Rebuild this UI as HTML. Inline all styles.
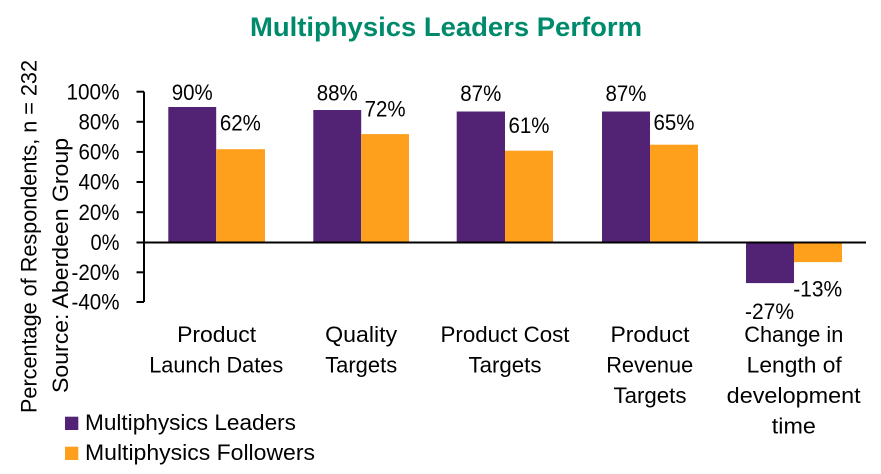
<!DOCTYPE html>
<html><head><meta charset="utf-8"><style>
html,body{margin:0;padding:0;background:#fff;}
svg{display:block;}
text{font-family:"Liberation Sans",Arial,sans-serif;fill:#000;}
</style></head><body>
<svg width="881" height="474" viewBox="0 0 881 474" xmlns="http://www.w3.org/2000/svg">
<rect width="881" height="474" fill="#fff"/>
<text x="446" y="36" text-anchor="middle" font-size="27" font-weight="bold" style="fill:#008A6C" textLength="392" lengthAdjust="spacingAndGlyphs">Multiphysics Leaders Perform</text>

<!-- axis titles -->
<text transform="translate(36.5,236.5) rotate(-90)" text-anchor="middle" font-size="22" textLength="353" lengthAdjust="spacingAndGlyphs">Percentage of Respondents, n = 232</text>
<text transform="translate(68,265.5) rotate(-90)" text-anchor="middle" font-size="22" textLength="255" lengthAdjust="spacingAndGlyphs">Source: Aberdeen Group</text>

<!-- bars -->
<g fill="#522375">
<rect x="168.3" y="107" width="47.9" height="135.5"/>
<rect x="313.3" y="110" width="47.9" height="132.5"/>
<rect x="456.7" y="111.5" width="48.3" height="131"/>
<rect x="602" y="111.5" width="48" height="131"/>
<rect x="746" y="242.5" width="48" height="40.6"/>
</g>
<g fill="#FFA01C">
<rect x="216.2" y="149.2" width="48.8" height="93.3"/>
<rect x="361.2" y="134.1" width="47.8" height="108.4"/>
<rect x="505" y="150.7" width="48" height="91.8"/>
<rect x="650" y="144.7" width="48" height="97.8"/>
<rect x="794" y="242.5" width="48" height="19.6"/>
</g>

<!-- axes -->
<g stroke="#000" stroke-width="2" fill="none">
<line x1="144" y1="91.7" x2="144" y2="302"/>
<line x1="144" y1="242.5" x2="866" y2="242.5"/>
<line x1="136.5" y1="91.7" x2="144" y2="91.7"/>
<line x1="136.5" y1="121.8" x2="144" y2="121.8"/>
<line x1="136.5" y1="151.9" x2="144" y2="151.9"/>
<line x1="136.5" y1="182" x2="144" y2="182"/>
<line x1="136.5" y1="212.2" x2="144" y2="212.2"/>
<line x1="136.5" y1="242.5" x2="144" y2="242.5"/>
<line x1="136.5" y1="272.3" x2="144" y2="272.3"/>
<line x1="136.5" y1="302" x2="144" y2="302"/>
</g>

<!-- tick labels -->
<g font-size="22" text-anchor="end" lengthAdjust="spacingAndGlyphs">
<text x="119.5" y="99.3" textLength="53" lengthAdjust="spacingAndGlyphs">100%</text>
<text x="119.5" y="129.4" textLength="41" lengthAdjust="spacingAndGlyphs">80%</text>
<text x="119.5" y="159.5" textLength="41" lengthAdjust="spacingAndGlyphs">60%</text>
<text x="119.5" y="189.6" textLength="41" lengthAdjust="spacingAndGlyphs">40%</text>
<text x="119.5" y="219.8" textLength="41" lengthAdjust="spacingAndGlyphs">20%</text>
<text x="119.5" y="250.1" textLength="29" lengthAdjust="spacingAndGlyphs">0%</text>
<text x="119.5" y="279.9" textLength="48" lengthAdjust="spacingAndGlyphs">-20%</text>
<text x="119.5" y="309.6" textLength="48" lengthAdjust="spacingAndGlyphs">-40%</text>
</g>

<!-- data labels -->
<g font-size="22" text-anchor="middle">
<text x="192.2" y="100" textLength="41" lengthAdjust="spacingAndGlyphs">90%</text>
<text x="240.4" y="130.5" textLength="41" lengthAdjust="spacingAndGlyphs">62%</text>
<text x="337.2" y="100.5" textLength="41" lengthAdjust="spacingAndGlyphs">88%</text>
<text x="385.1" y="116.5" textLength="41" lengthAdjust="spacingAndGlyphs">72%</text>
<text x="480.8" y="101" textLength="41" lengthAdjust="spacingAndGlyphs">87%</text>
<text x="529" y="133" textLength="41" lengthAdjust="spacingAndGlyphs">61%</text>
<text x="626" y="101" textLength="41" lengthAdjust="spacingAndGlyphs">87%</text>
<text x="674" y="130" textLength="41" lengthAdjust="spacingAndGlyphs">65%</text>
<text x="769.5" y="319" textLength="49" lengthAdjust="spacingAndGlyphs">-27%</text>
<text x="817.7" y="296.7" textLength="49" lengthAdjust="spacingAndGlyphs">-13%</text>
</g>

<!-- category labels -->
<g font-size="22" text-anchor="middle">
<text x="216.6" y="342" textLength="79" lengthAdjust="spacingAndGlyphs">Product</text>
<text x="216.2" y="372.5" textLength="134" lengthAdjust="spacingAndGlyphs">Launch Dates</text>
<text x="361.2" y="342" textLength="72" lengthAdjust="spacingAndGlyphs">Quality</text>
<text x="361.2" y="372.5" textLength="72" lengthAdjust="spacingAndGlyphs">Targets</text>
<text x="505" y="342" textLength="129" lengthAdjust="spacingAndGlyphs">Product Cost</text>
<text x="505" y="372.5" textLength="73" lengthAdjust="spacingAndGlyphs">Targets</text>
<text x="650" y="342" textLength="79" lengthAdjust="spacingAndGlyphs">Product</text>
<text x="649.7" y="372.5" textLength="87" lengthAdjust="spacingAndGlyphs">Revenue</text>
<text x="650" y="403" textLength="73" lengthAdjust="spacingAndGlyphs">Targets</text>
<text x="793.8" y="342" textLength="99" lengthAdjust="spacingAndGlyphs">Change in</text>
<text x="794.2" y="372.5" textLength="95" lengthAdjust="spacingAndGlyphs">Length of</text>
<text x="793.7" y="403" textLength="134" lengthAdjust="spacingAndGlyphs">development</text>
<text x="793.8" y="433.5" textLength="44" lengthAdjust="spacingAndGlyphs">time</text>
</g>

<!-- legend -->
<rect x="65" y="416.7" width="13.3" height="13.3" fill="#522375"/>
<rect x="65" y="446.7" width="13.3" height="13.3" fill="#FFA01C"/>
<g font-size="22">
<text x="85" y="430" textLength="211" lengthAdjust="spacingAndGlyphs">Multiphysics Leaders</text>
<text x="85" y="460" textLength="230" lengthAdjust="spacingAndGlyphs">Multiphysics Followers</text>
</g>
</svg>
</body></html>
